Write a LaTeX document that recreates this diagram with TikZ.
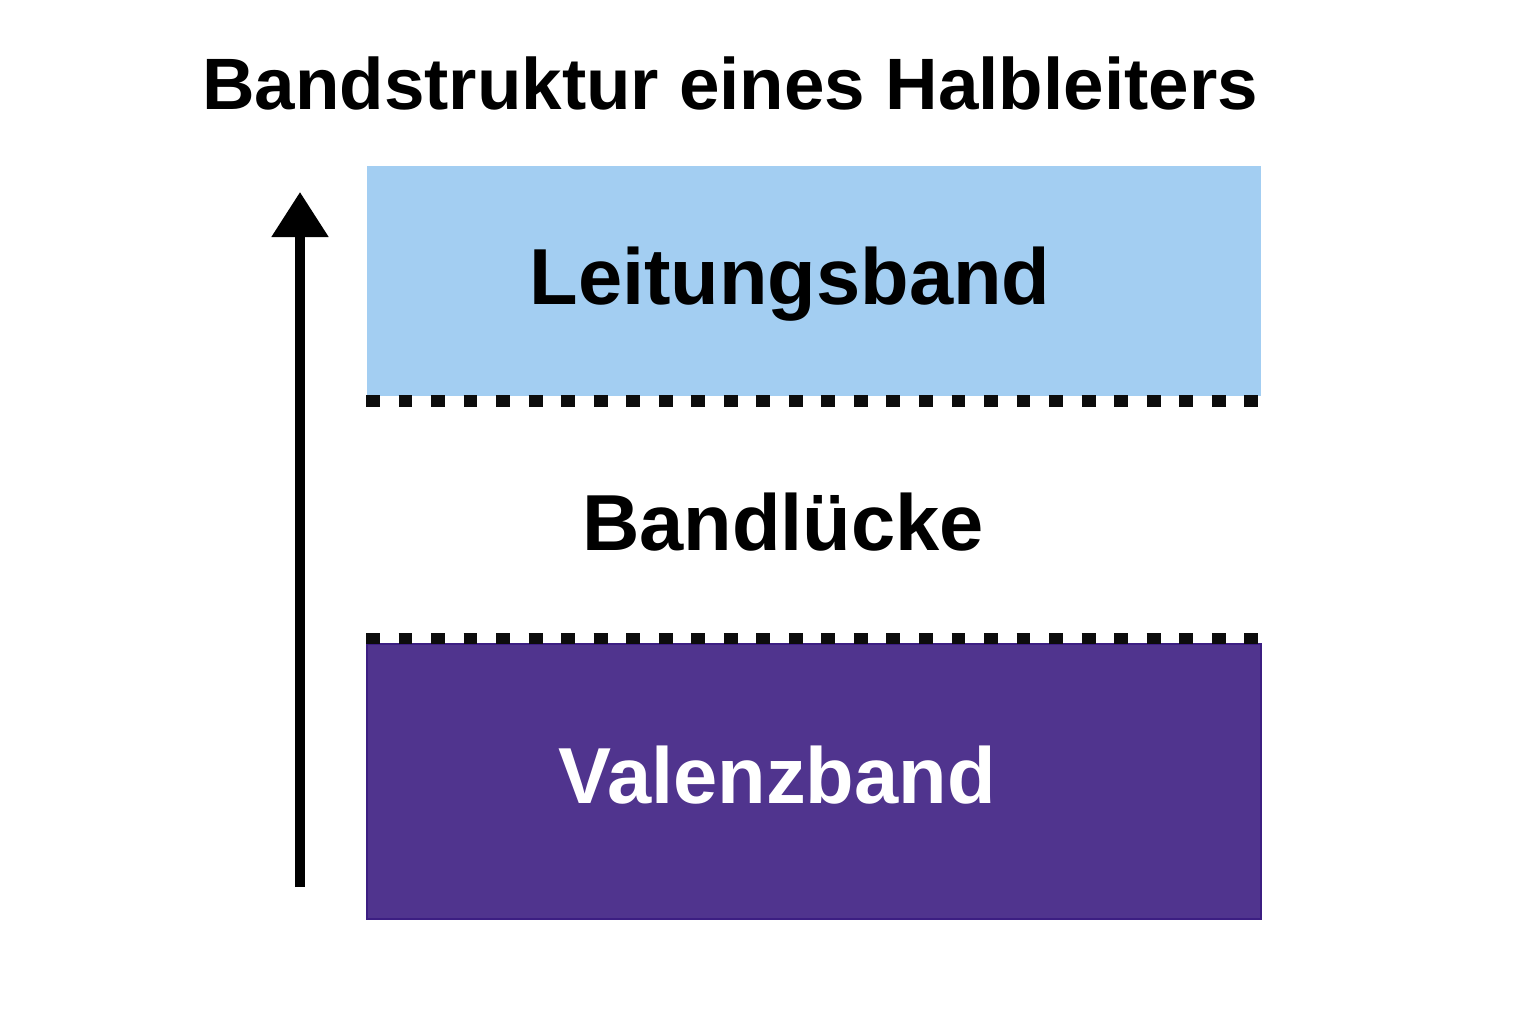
\documentclass[tikz,border=0pt]{standalone}
\usepackage{fontspec}
\setmainfont{Liberation Sans}
\usepackage{tikz}
\usetikzlibrary{positioning,arrows.meta}
\definecolor{cbFill}{RGB}{163,206,242}
\definecolor{vbFill}{RGB}{80,52,142}
\definecolor{vbLine}{RGB}{60,30,130}
\definecolor{gapLine}{RGB}{12,12,12}

\begin{document}
\begin{tikzpicture}[x=0.01cm,y=-0.01cm,
  lbl/.style  ={font=\fontsize{22.6pt}{26pt}\selectfont\bfseries,inner sep=0pt},
  edge/.style ={gapLine,line width=3.2pt,dash pattern=on 3.95pt off 5.3pt},
  energy/.style={-{Triangle[length=12.8pt,width=15.6pt]},line width=2.6pt}]
\useasboundingbox[fill=white] (0,0) rectangle (1536,1024);
% Baender
\fill[cbFill] (367,166) rectangle (1261,396);
\fill[vbFill,draw=vbLine,line width=0.5pt] (367,644) rectangle (1261,919);
% Kanten der Bandluecke
\coordinate (cbL) at (366,401);
\coordinate (cbR) at (1262,401);
\coordinate (vbL) at (366,638.5);
\coordinate (vbR) at (1262,638.5);
\draw[edge] (cbL) -- (cbR);
\draw[edge] (vbL) -- (vbR);
% Texte
\node[font=\fontsize{20.7pt}{24pt}\selectfont\bfseries] (title) at (730,83) {Bandstruktur eines Halbleiters};
\node[lbl] (lb) at (790,284) {Leitungsband};
\node[lbl] (gap) at (783,522) {Bandlücke};
\node[lbl,text=white] (vl) at (777,775) {Valenzband};
% Energieachse
\coordinate (eLo) at (300,887);
\coordinate (eHi) at (300,192);
\draw[energy] (eLo) -- (eHi);
\end{tikzpicture}
\end{document}
